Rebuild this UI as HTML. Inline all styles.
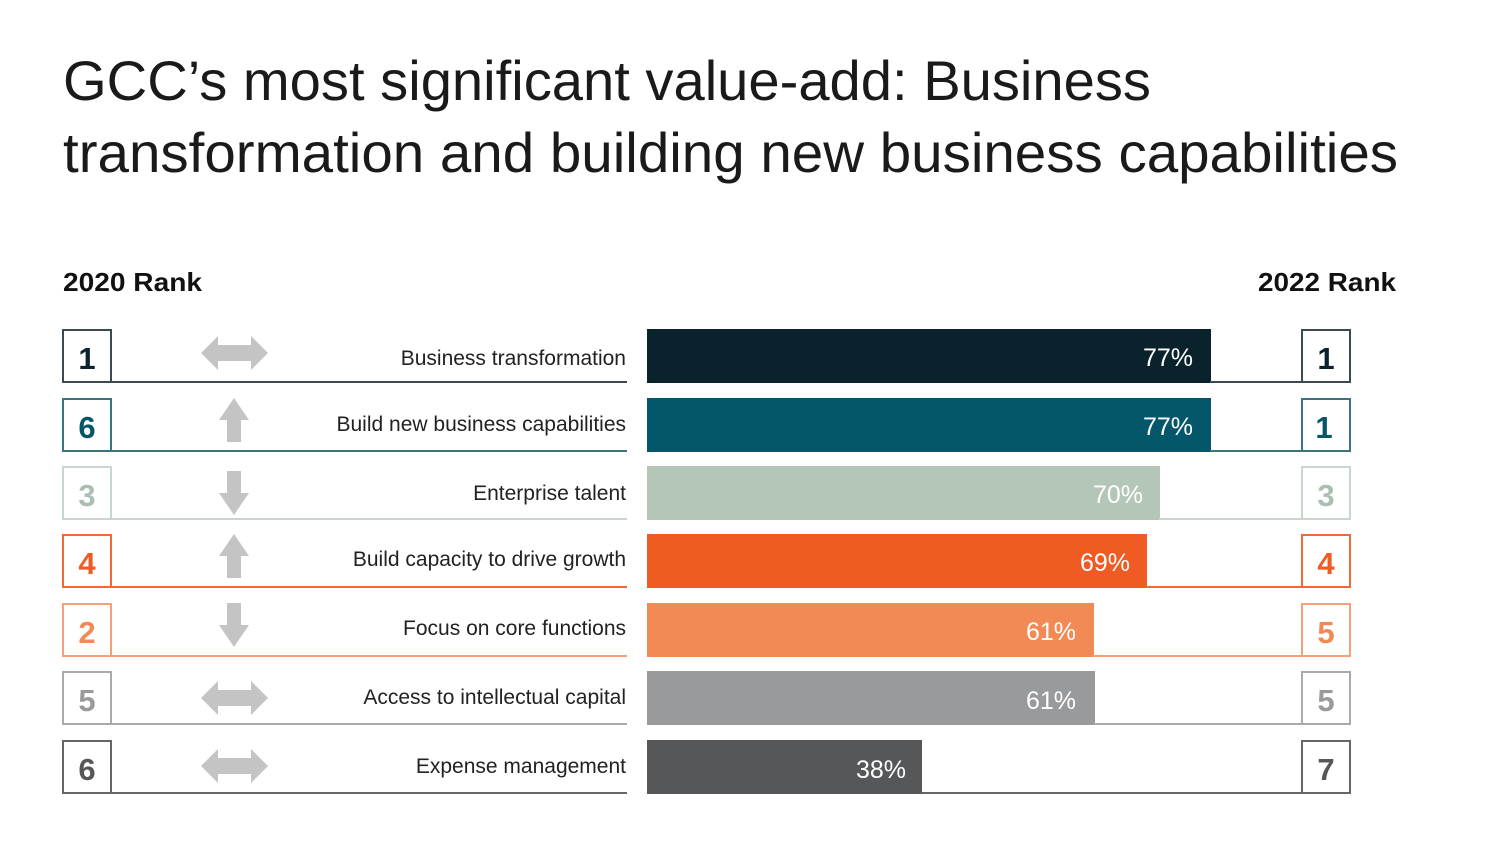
<!DOCTYPE html>
<html><head><meta charset="utf-8"><style>body{margin:0;background:#fff}svg{display:block}</style></head><body>
<svg width="1500" height="842" xmlns="http://www.w3.org/2000/svg" font-family="Liberation Sans, sans-serif">
<text x="63" y="100" font-size="56" fill="#1a1a1a" textLength="1088" lengthAdjust="spacingAndGlyphs">GCC’s most significant value-add: Business</text>
<text x="63" y="172" font-size="56" fill="#1a1a1a" textLength="1335" lengthAdjust="spacingAndGlyphs">transformation and building new business capabilities</text>
<text x="63" y="291" font-size="26" font-weight="bold" fill="#111" textLength="139" lengthAdjust="spacingAndGlyphs">2020 Rank</text>
<text x="1258" y="291" font-size="26" font-weight="bold" fill="#111" textLength="138" lengthAdjust="spacingAndGlyphs">2022 Rank</text>
<defs>
<g id="dbl"><polygon points="0,0 17,-17 17,-8 50,-8 50,-17 67,0 50,17 50,8 17,8 17,17" fill="#c4c4c4"/></g>
<g id="up"><polygon points="0,-22 15,0 7,0 7,22 -7,22 -7,0 -15,0" fill="#c4c4c4"/></g>
<g id="dn"><polygon points="0,22 15,0 7,0 7,-22 -7,-22 -7,0 -15,0" fill="#c4c4c4"/></g>
</defs>
<g font-size="21" fill="#222">
<g transform="translate(0,329)">
<rect x="63" y="1" width="48" height="52" fill="none" stroke="#3c4a52" stroke-width="2"/>
<text x="87" y="40" font-size="31" font-weight="bold" fill="#0a222c" text-anchor="middle">1</text>
<use href="#dbl" x="201" y="24"/>
<text x="626" y="36" text-anchor="end">Business transformation</text>
<line x1="62" y1="53" x2="627" y2="53" stroke="#3c4a52" stroke-width="2"/>
<rect x="647" y="0" width="564" height="54" fill="#0a222c"/>
<text x="1193" y="37" font-size="25" fill="#fff" text-anchor="end">77%</text>
<line x1="1210" y1="53" x2="1350" y2="53" stroke="#3c4a52" stroke-width="2"/>
<rect x="1302" y="1" width="48" height="52" fill="#fff" stroke="#3c4a52" stroke-width="2"/>
<text x="1326" y="40" font-size="31" font-weight="bold" fill="#0a222c" text-anchor="middle">1</text>
</g>
<g transform="translate(0,398)">
<rect x="63" y="1" width="48" height="52" fill="none" stroke="#3a7382" stroke-width="2"/>
<text x="87" y="40" font-size="31" font-weight="bold" fill="#04566a" text-anchor="middle">6</text>
<use href="#up" x="234" y="22"/>
<text x="626" y="33" text-anchor="end">Build new business capabilities</text>
<line x1="62" y1="53" x2="627" y2="53" stroke="#3a7382" stroke-width="2"/>
<rect x="647" y="0" width="564" height="54" fill="#04566a"/>
<text x="1193" y="37" font-size="25" fill="#fff" text-anchor="end">77%</text>
<line x1="1210" y1="53" x2="1350" y2="53" stroke="#3a7382" stroke-width="2"/>
<rect x="1302" y="1" width="48" height="52" fill="#fff" stroke="#3a7382" stroke-width="2"/>
<text x="1324" y="40" font-size="31" font-weight="bold" fill="#04566a" text-anchor="middle">1</text>
</g>
<g transform="translate(0,466)">
<rect x="63" y="1" width="48" height="52" fill="none" stroke="#c9d6cd" stroke-width="2"/>
<text x="87" y="40" font-size="31" font-weight="bold" fill="#a9bfb0" text-anchor="middle">3</text>
<use href="#dn" x="234" y="27"/>
<text x="626" y="34" text-anchor="end">Enterprise talent</text>
<line x1="62" y1="53" x2="627" y2="53" stroke="#c9d6cd" stroke-width="2"/>
<rect x="647" y="0" width="513" height="54" fill="#b3c6b8"/>
<text x="1143" y="37" font-size="25" fill="#fff" text-anchor="end">70%</text>
<line x1="1159" y1="53" x2="1350" y2="53" stroke="#c9d6cd" stroke-width="2"/>
<rect x="1302" y="1" width="48" height="52" fill="#fff" stroke="#c9d6cd" stroke-width="2"/>
<text x="1326" y="40" font-size="31" font-weight="bold" fill="#a9bfb0" text-anchor="middle">3</text>
</g>
<g transform="translate(0,534)">
<rect x="63" y="1" width="48" height="52" fill="none" stroke="#f06a38" stroke-width="2"/>
<text x="87" y="40" font-size="31" font-weight="bold" fill="#f05a23" text-anchor="middle">4</text>
<use href="#up" x="234" y="22"/>
<text x="626" y="32" text-anchor="end">Build capacity to drive growth</text>
<line x1="62" y1="53" x2="627" y2="53" stroke="#f06a38" stroke-width="2"/>
<rect x="647" y="0" width="500" height="54" fill="#f05a23"/>
<text x="1130" y="37" font-size="25" fill="#fff" text-anchor="end">69%</text>
<line x1="1146" y1="53" x2="1350" y2="53" stroke="#f06a38" stroke-width="2"/>
<rect x="1302" y="1" width="48" height="52" fill="#fff" stroke="#f06a38" stroke-width="2"/>
<text x="1326" y="40" font-size="31" font-weight="bold" fill="#f05a23" text-anchor="middle">4</text>
</g>
<g transform="translate(0,603)">
<rect x="63" y="1" width="48" height="52" fill="none" stroke="#f4a07a" stroke-width="2"/>
<text x="87" y="40" font-size="31" font-weight="bold" fill="#f28a55" text-anchor="middle">2</text>
<use href="#dn" x="234" y="22"/>
<text x="626" y="32" text-anchor="end">Focus on core functions</text>
<line x1="62" y1="53" x2="627" y2="53" stroke="#f4a07a" stroke-width="2"/>
<rect x="647" y="0" width="447" height="54" fill="#f28a55"/>
<text x="1076" y="37" font-size="25" fill="#fff" text-anchor="end">61%</text>
<line x1="1093" y1="53" x2="1350" y2="53" stroke="#f4a07a" stroke-width="2"/>
<rect x="1302" y="1" width="48" height="52" fill="#fff" stroke="#f4a07a" stroke-width="2"/>
<text x="1326" y="40" font-size="31" font-weight="bold" fill="#f28a55" text-anchor="middle">5</text>
</g>
<g transform="translate(0,671)">
<rect x="63" y="1" width="48" height="52" fill="none" stroke="#a9aaac" stroke-width="2"/>
<text x="87" y="40" font-size="31" font-weight="bold" fill="#999a9c" text-anchor="middle">5</text>
<use href="#dbl" x="201" y="27"/>
<text x="626" y="33" text-anchor="end">Access to intellectual capital</text>
<line x1="62" y1="53" x2="627" y2="53" stroke="#a9aaac" stroke-width="2"/>
<rect x="647" y="0" width="448" height="54" fill="#999a9c"/>
<text x="1076" y="38" font-size="25" fill="#fff" text-anchor="end">61%</text>
<line x1="1094" y1="53" x2="1350" y2="53" stroke="#a9aaac" stroke-width="2"/>
<rect x="1302" y="1" width="48" height="52" fill="#fff" stroke="#a9aaac" stroke-width="2"/>
<text x="1326" y="40" font-size="31" font-weight="bold" fill="#999a9c" text-anchor="middle">5</text>
</g>
<g transform="translate(0,740)">
<rect x="63" y="1" width="48" height="52" fill="none" stroke="#666" stroke-width="2"/>
<text x="87" y="40" font-size="31" font-weight="bold" fill="#555759" text-anchor="middle">6</text>
<use href="#dbl" x="201" y="26"/>
<text x="626" y="33" text-anchor="end">Expense management</text>
<line x1="62" y1="53" x2="627" y2="53" stroke="#666" stroke-width="2"/>
<rect x="647" y="0" width="275" height="54" fill="#555759"/>
<text x="906" y="38" font-size="25" fill="#fff" text-anchor="end">38%</text>
<line x1="921" y1="53" x2="1350" y2="53" stroke="#666" stroke-width="2"/>
<rect x="1302" y="1" width="48" height="52" fill="#fff" stroke="#666" stroke-width="2"/>
<text x="1326" y="40" font-size="31" font-weight="bold" fill="#555759" text-anchor="middle">7</text>
</g>
</g>
</svg>
</body></html>
